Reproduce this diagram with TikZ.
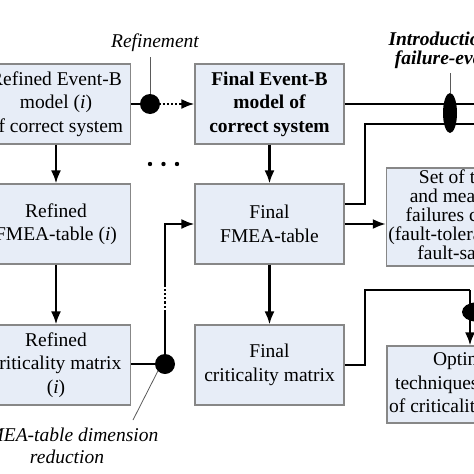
\documentclass[tikz,border=0pt]{standalone}
\usepackage{fontspec}
\setmainfont{Liberation Serif}
\usetikzlibrary{arrows.meta,shapes.geometric}
\definecolor{boxFill}{RGB}{231,237,247}
\definecolor{boxLine}{RGB}{135,135,135}
\definecolor{noteGray}{RGB}{90,90,90}

\begin{document}
\begin{tikzpicture}
[x=1pt,y=-1pt,
  every node/.style={inner sep=2pt,align=center,font=\fontsize{19.5}{23.5}\selectfont},
  blockBox/.style={draw=boxLine,fill=boxFill,line width=1.2pt,
    minimum width=149pt,minimum height=80pt},
  lineDecorate/.style={line width=2.2pt},
  lineArrow/.style={lineDecorate,-{Latex[length=13pt,width=10pt]}},
  noteLine/.style={draw=noteGray,line width=0.8pt},
  blackDot/.style={circle,fill=black,inner sep=0pt,minimum size=20pt},
  blackOval/.style={ellipse,fill=black,inner sep=0pt}]
\useasboundingbox (0,0) rectangle (474,474);
\clip (0,0) rectangle (474,474);

% blocks
\node[blockBox] (refModel) at (56,104) {Refined Event-B\\model (\textit{i})\\of correct system};
\node[blockBox] (refTable) at (56,224) {Refined\\FMEA-table (\textit{i})};
\node[blockBox] (refMatrix) at (56,365) {Refined\\criticality matrix\\(\textit{i})};
\node[blockBox,font=\fontsize{19.5}{23.5}\selectfont\bfseries] (finModel) at (269.5,104)
  {Final Event-B\\model of\\correct system};
\node[blockBox] (finTable) at (269.5,224) {Final\\FMEA-table};
\node[blockBox] (finMatrix) at (269.5,365) {Final\\criticality matrix};
\node[blockBox,minimum width=156pt,minimum height=96pt,
  font=\fontsize{19.5}{19}\selectfont] (failSet) at (465,217)
  {Set of types\\and means for\\failures control\\(fault-tolerance and\\fault-safety)};
\node[blockBox,minimum width=156pt,minimum height=77pt] (optim) at (465,384.5)
  {Optimal\\techniques for the\\of criticality matrix};

% labels
\node[font=\fontsize{19.5}{23.5}\selectfont\itshape] (refLabel) at (155,43) {Refinement};
\node[font=\fontsize{19.5}{17}\selectfont\bfseries\itshape] (introLabel) at (450,50)
  {Introduction of\\failure-events};
\node[font=\fontsize{19.5}{22}\selectfont\itshape] (reduceLabel) at (67,446)
  {FMEA-table dimension\\reduction};

\foreach \dotX in {150,163.5,177}
  \fill (\dotX,164) circle (2.2);

% connections
\foreach \startNode/\endNode in {refModel/refTable, refTable/refMatrix,
  finModel/finTable, finTable/finMatrix}
  \draw[lineArrow] (\startNode) -- (\endNode);

\coordinate (refDotPos) at (150,104);
\coordinate (redDotPos) at (165,364);
\coordinate (dotTop) at (165,312);
\coordinate (dotBot) at (165,287);
\coordinate (outModel) at (480,104);
\coordinate (turnTable) at (365,124);
\coordinate (outTable) at (480,124);
\coordinate (turnMatrix) at (470,290);

\draw[lineDecorate] (refModel.east) -- (refDotPos);
\draw[lineArrow,dotted] (refDotPos) -- (finModel.west);
\draw[lineDecorate] (refMatrix.east |- redDotPos) -- (redDotPos) -- (dotTop);
\draw[lineDecorate,dotted] (dotTop) -- (dotBot);
\draw[lineArrow] (dotBot) |- (finTable.west);
\draw[lineDecorate] (finModel.east) -- (outModel);
\draw[lineDecorate] ([yshift=20pt]finTable.east) -| (turnTable) -- (outTable);
\draw[lineArrow] (finTable.east) -- (finTable.east -| failSet.west);
\draw[lineDecorate] (finMatrix.east) -| (365,290) -- (turnMatrix);
\draw[lineArrow] (turnMatrix) -- (optim.north -| turnMatrix);

% markers
\node[blackDot] (refDot) at (refDotPos) {};
\node[blackDot] (redDot) at (redDotPos) {};
\node[blackOval,minimum width=14pt,minimum height=40pt] (eventOval) at (450,113) {};
\node[blackOval,minimum width=28pt,minimum height=19pt] (optimOval) at (476,312) {};

\draw[noteLine] (refDot.north) -- (refDot.north |- 0,57);
\draw[noteLine] (eventOval.north) -- (eventOval.north |- 0,73);
\draw[noteLine] (redDot.south west) -- (133,420);
\end{tikzpicture}
\end{document}
